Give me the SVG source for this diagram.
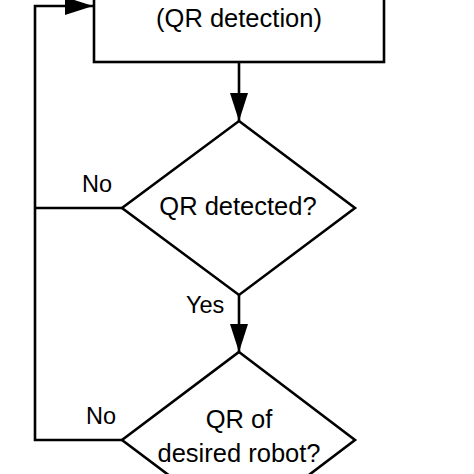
<svg xmlns="http://www.w3.org/2000/svg" width="474" height="474" viewBox="0 0 474 474">
<style>
.s{fill:#fff;stroke:#000;stroke-width:2.6}
.c{fill:none;stroke:#000;stroke-width:2.6}
text{font-family:"Liberation Sans",Arial,sans-serif;font-size:23.5px;fill:#000}
.m{text-anchor:middle;font-size:25.5px}
</style>
<defs>
<marker id="a" markerUnits="userSpaceOnUse" markerWidth="30" markerHeight="20" refX="28" refY="9" orient="auto">
<path d="M0,0 L28,9 L0,18 Z" fill="#000"/>
</marker>
</defs>
<rect width="474" height="474" fill="#fff"/>
<g id="connectors">
<path class="c" d="M239,63 V121" marker-end="url(#a)"/>
<path class="c" d="M239,295 V352" marker-end="url(#a)"/>
<path class="c" d="M122,208 H35"/>
<path class="c" d="M122,440 H35 V6 H93" marker-end="url(#a)"/>
</g>
<g id="n1">
<rect class="s" x="94" y="-40" width="290" height="102"/>
<text class="m" x="239" y="27">(QR detection)</text>
</g>
<g id="n2">
<path class="s" d="M239,121 L355,208 L239,295 L122,208 Z"/>
<text class="m" x="238" y="215">QR detected?</text>
</g>
<g id="n3">
<path class="s" d="M239,352 L355,440 L239,528 L122,440 Z"/>
<text class="m" x="239" y="428">QR of</text>
<text class="m" x="239" y="462">desired robot?</text>
</g>
<g id="labels">
<text x="82" y="192">No</text>
<text x="186" y="313">Yes</text>
<text x="86" y="424">No</text>
</g>
</svg>
